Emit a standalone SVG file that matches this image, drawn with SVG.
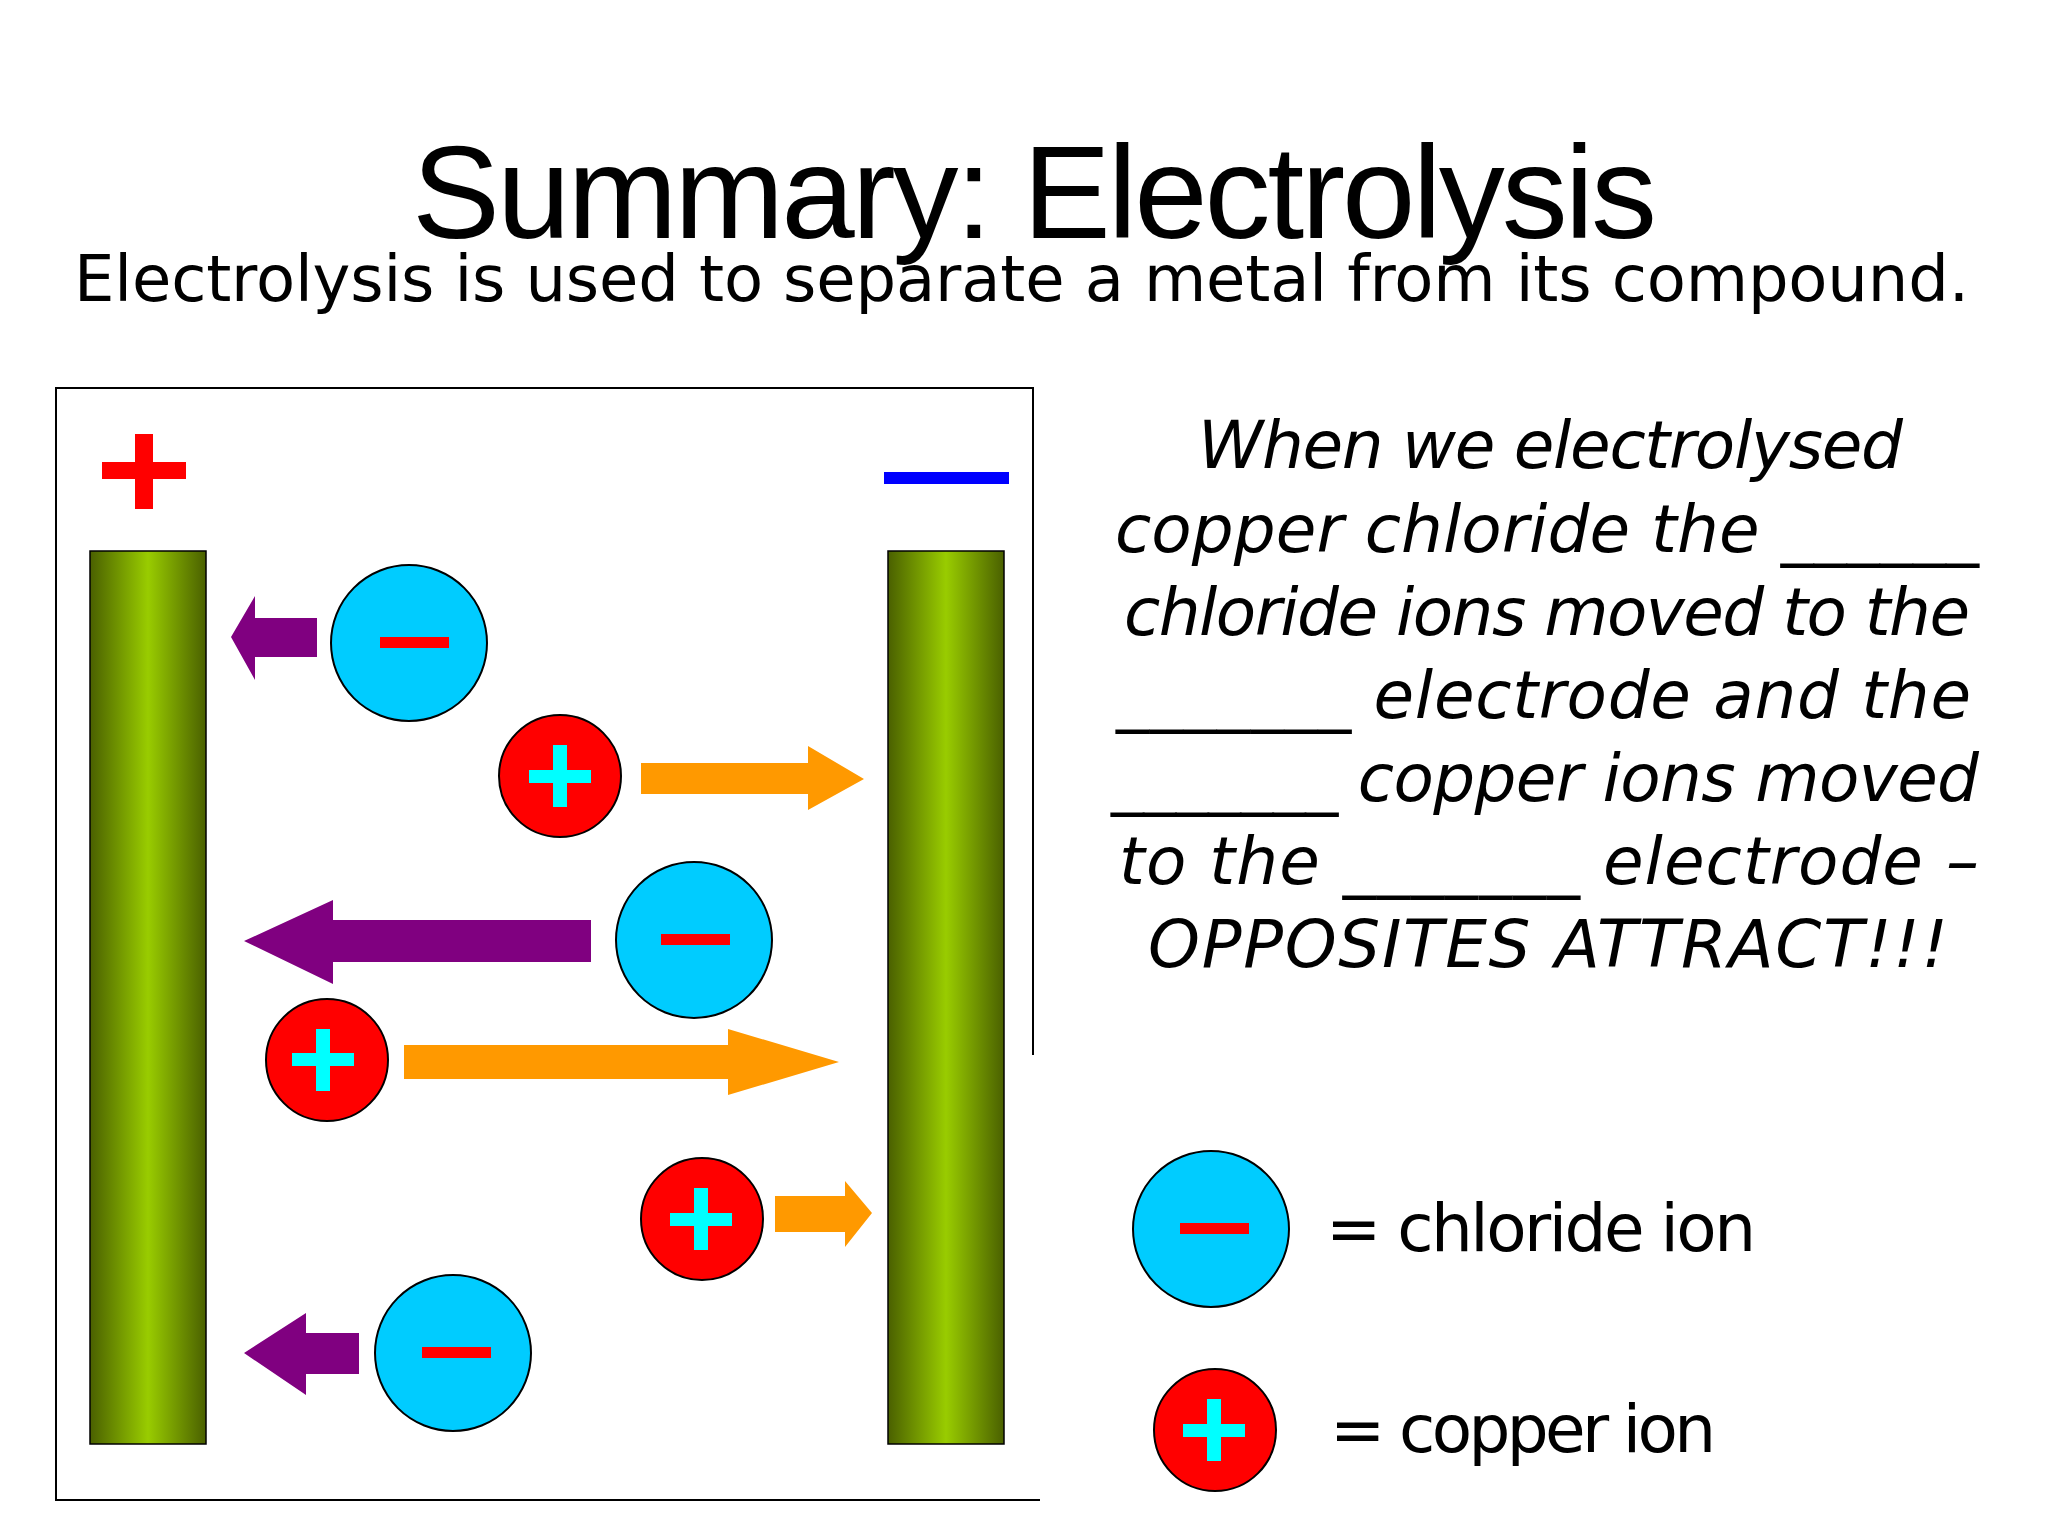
<svg xmlns="http://www.w3.org/2000/svg" width="2048" height="1536" viewBox="0 0 2048 1536">
<style>
.cl{fill:#00ccff;stroke:#000;stroke-width:2}
.cu{fill:#ff0000;stroke:#000;stroke-width:2}
.m{fill:#ff0000}
.p{fill:#00ffff}
.pu{fill:#800080}
.or{fill:#ff9900}
.t{font-family:"DejaVu Sans","Noto Sans",sans-serif;fill:#000}
.it{font-family:"DejaVu Sans","Noto Sans",sans-serif;font-style:italic;font-size:66px;fill:#000;text-anchor:start}
</style>
<defs>
<linearGradient id="g" x1="0" x2="1" y1="0" y2="0">
<stop offset="0" stop-color="#4a6000"/><stop offset="0.5" stop-color="#99cc00"/><stop offset="1" stop-color="#4a6000"/>
</linearGradient>
</defs>
<rect width="2048" height="1536" fill="#fff"/>
<text class="t" x="412" y="238" font-size="132" font-family="Liberation Sans" style="font-family:'Liberation Sans',Arial,sans-serif" textLength="1245">Summary: Electrolysis</text>
<text class="t" x="74" y="301" font-size="64" textLength="1895">Electrolysis is used to separate a metal from its compound.</text>
<g id="box">
<path d="M1033 1055 V388 H56 V1500 H1040" fill="none" stroke="#000" stroke-width="2"/>
</g>
<g id="anode-sign"><rect x="102" y="462" width="84" height="17" class="m"/><rect x="135" y="434" width="18" height="75" class="m"/></g>
<g id="cathode-sign"><rect x="884" y="472" width="125" height="12" fill="#0000ff"/></g>
<g id="anode"><rect x="90" y="551" width="116" height="893" fill="url(#g)" stroke="#000" stroke-width="1.5"/></g>
<g id="cathode"><rect x="888" y="551" width="116" height="893" fill="url(#g)" stroke="#000" stroke-width="1.5"/></g>
<g id="connectors">
<polygon class="pu" points="231,637 255,596 255,618 317,618 317,657 255,657 255,680"/>
<polygon class="or" points="641,763 808,763 808,746 864,779 808,810 808,794 641,794"/>
<polygon class="pu" points="244,941 333,900 333,920 591,920 591,962 333,962 333,984"/>
<polygon class="or" points="404,1045 728,1045 728,1029 839,1062 728,1095 728,1079 404,1079"/>
<polygon class="or" points="775,1196 845,1196 845,1181 872,1213 845,1247 845,1232 775,1232"/>
<polygon class="pu" points="244,1353 306,1313 306,1333 359,1333 359,1374 306,1374 306,1395"/>
</g>
<g id="cl1"><circle class="cl" cx="409" cy="643" r="78"/><rect class="m" x="380" y="637" width="69" height="11"/></g>
<g id="cu1"><circle class="cu" cx="560" cy="776" r="61"/><rect class="p" x="529" y="770" width="62" height="13"/><rect class="p" x="553" y="745" width="14" height="62"/></g>
<g id="cl2"><circle class="cl" cx="694" cy="940" r="78"/><rect class="m" x="661" y="934" width="69" height="11"/></g>
<g id="cu2"><circle class="cu" cx="327" cy="1060" r="61"/><rect class="p" x="292" y="1053" width="62" height="13"/><rect class="p" x="316" y="1029" width="14" height="62"/></g>
<g id="cu3"><circle class="cu" cx="702" cy="1219" r="61"/><rect class="p" x="670" y="1213" width="62" height="13"/><rect class="p" x="694" y="1188" width="14" height="62"/></g>
<g id="cl3"><circle class="cl" cx="453" cy="1353" r="78"/><rect class="m" x="422" y="1347" width="69" height="11"/></g>
<g id="text">
<text class="it" x="1198" y="468" textLength="705">When we electrolysed</text>
<text class="it" x="1115" y="552" textLength="864">copper chloride the ______</text>
<text class="it" x="1124" y="635" textLength="846">chloride ions moved to the</text>
<text class="it" x="1116" y="718" textLength="855">_______ electrode and the</text>
<text class="it" x="1111" y="801" textLength="868">_______ copper ions moved</text>
<text class="it" x="1119" y="884" textLength="860">to the _______ electrode –</text>
<text class="it" x="1148" y="967" textLength="800">OPPOSITES ATTRACT!!!</text>
</g>
<g id="legend-cl"><circle class="cl" cx="1211" cy="1229" r="78"/><rect class="m" x="1180" y="1223" width="69" height="11"/>
<text class="t" x="1326" y="1251" font-size="66" textLength="430">= chloride ion</text></g>
<g id="legend-cu"><circle class="cu" cx="1215" cy="1430" r="61"/><rect class="p" x="1183" y="1424" width="62" height="13"/><rect class="p" x="1207" y="1399" width="14" height="62"/>
<text class="t" x="1330" y="1452" font-size="66" textLength="386">= copper ion</text></g>
</svg>
